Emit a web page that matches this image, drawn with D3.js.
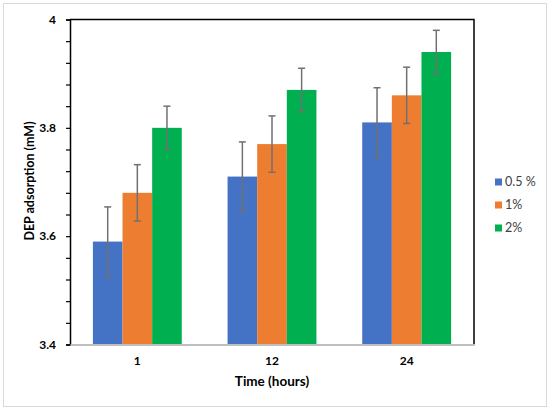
<!DOCTYPE html>
<html lang="en">
<head>
<meta charset="UTF-8">
<title>DEP adsorption</title>
<script src="https://d3js.org/d3.v7.min.js"></script>
<style>
    body { margin: 0; background: #fff; }
    svg { display: block; font-family: Lato, "Open Sans", sans-serif; }
</style>
</head>
<body>
<svg id="chart" width="550" height="410"></svg>
<script>
    // data
    const times = ["1", "12", "24"];
    const seriesNames = ["0.5 %", "1%", "2%"];
    const colors = ["#4472c4", "#ed7d31", "#00b050"];
    const conc05 = [3.59, 3.71, 3.81];
    const conc1 = [3.68, 3.77, 3.86];
    const conc2 = [3.80, 3.87, 3.94];
    const err05 = [0.064, 0.064, 0.064];
    const err1 = [0.052, 0.052, 0.052];
    const err2 = [0.04, 0.04, 0.04];
    const yTicks = [3.4, 3.6, 3.8, 4];

    const values = [conc05, conc1, conc2];
    const errors = [err05, err1, err2];

    const W = 550, H = 410;
    const m = { left: 70, right: 76, top: 19.5, bottom: 65.5 };
    const svg = d3.select("#chart");

    // outer frame
    svg.append("rect").attr("x", 3.5).attr("y", 3.5)
        .attr("width", W - 7).attr("height", H - 7)
        .attr("fill", "#fff").attr("stroke", "#d9d9d9");

    const x = d3.scaleBand().domain(times)
        .range([m.left, W - m.right]).paddingInner(0.34).paddingOuter(0.17);
    const xs = d3.scaleBand().domain(d3.range(3)).range([0, x.bandwidth()]);
    const y = d3.scaleLinear().domain([3.4, 4]).range([H - m.bottom, m.top]);

    // bars
    values.forEach((vals, s) => {
        svg.append("g").selectAll("rect").data(vals).join("rect")
            .attr("x", (d, i) => x(times[i]) + xs(s))
            .attr("width", xs.bandwidth())
            .attr("y", d => y(d))
            .attr("height", d => y(3.4) - y(d))
            .attr("fill", colors[s]);
    });

    // error bars
    values.forEach((vals, s) => {
        const g = svg.append("g").attr("stroke", "#707070").attr("stroke-width", 1.5);
        vals.forEach((v, i) => {
            const cx = x(times[i]) + xs(s) + xs.bandwidth() / 2;
            const hi = y(v + errors[s][i]), lo = y(v - errors[s][i]);
            g.append("line").attr("x1", cx).attr("x2", cx).attr("y1", hi).attr("y2", lo);
            g.append("line").attr("x1", cx - 3.5).attr("x2", cx + 3.5).attr("y1", hi).attr("y2", hi);
            g.append("line").attr("x1", cx - 3.5).attr("x2", cx + 3.5).attr("y1", lo).attr("y2", lo);
        });
    });

    // top and right border
    svg.append("path")
        .attr("d", `M${m.left},${m.top}H${W - m.right}V${H - m.bottom}`)
        .attr("fill", "none").attr("stroke", "#000").attr("stroke-width", 1.5);

    // y axis with minor ticks
    const yAxis = svg.append("g").attr("transform", `translate(${m.left},0)`)
        .call(d3.axisLeft(y).tickValues(d3.range(3.4, 4.001, 0.04)).tickSize(4).tickFormat(""));
    yAxis.select(".domain").attr("stroke", "#000").attr("stroke-width", 1.5);
    yAxis.selectAll(".tick line").attr("stroke", "#000").attr("stroke-width", 1.2);
    svg.append("g").selectAll("text").data(yTicks).join("text")
        .attr("x", m.left - 14).attr("y", d => y(d)).attr("dy", "0.35em")
        .attr("text-anchor", "end").attr("font-size", 12).attr("font-weight", "bold")
        .attr("fill", "#000").text(d => d3.format("~g")(d));

    // x axis
    const xAxis = svg.append("g").attr("transform", `translate(0,${H - m.bottom})`)
        .call(d3.axisBottom(x).tickSize(0).tickPadding(12));
    xAxis.select(".domain").attr("stroke", "#bfbfbf").attr("stroke-width", 2);
    xAxis.selectAll("text").attr("font-family", "Lato, sans-serif")
        .attr("font-size", 12).attr("font-weight", "bold").attr("fill", "#000");

    // axis titles
    svg.append("text").attr("x", 272).attr("y", 386)
        .attr("text-anchor", "middle").attr("font-size", 13.5).attr("font-weight", "bold")
        .text("Time (hours)");
    svg.append("text")
        .attr("transform", `translate(34,181) rotate(-90)`)
        .attr("text-anchor", "middle").attr("font-size", 12.5).attr("font-weight", "bold")
        .text("DEP adsorption (mM)");

    // legend
    const leg = svg.append("g").selectAll("g").data(seriesNames).join("g")
        .attr("transform", (d, i) => `translate(495,${182 + i * 23})`);
    leg.append("rect").attr("x", 0).attr("y", -3.5).attr("width", 7).attr("height", 7)
        .attr("fill", (d, i) => colors[i]);
    leg.append("text").attr("x", 10).attr("dy", "0.35em").attr("font-size", 12.5)
        .attr("fill", "#404040").text(d => d);
</script>
</body>
</html>
